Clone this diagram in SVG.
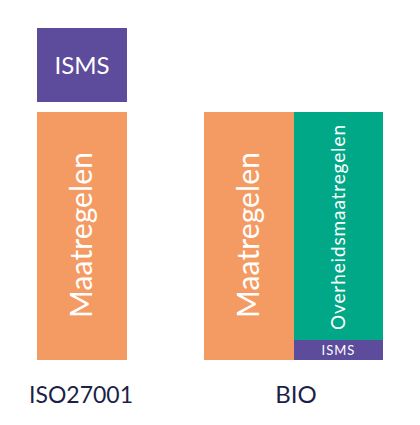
<svg xmlns="http://www.w3.org/2000/svg" width="420" height="425" viewBox="0 0 420 425">
<style>
.t{font-family:Lato,"Open Sans","Noto Sans",sans-serif;fill:#fff}
.lbl{font-family:Lato,"Open Sans","Noto Sans",sans-serif;fill:#1c1f48;font-size:24px;text-anchor:middle}
.purple{fill:#5c4c9b}.orange{fill:#f49b63}.green{fill:#00a887}
</style>
<rect width="420" height="425" fill="#fff"/>
<g id="iso-isms">
<rect class="purple" x="37" y="28" width="90" height="74"/>
<text class="t" x="82" y="74" font-size="24" text-anchor="middle">ISMS</text>
</g>
<g id="iso-maatregelen">
<rect class="orange" x="37" y="112" width="90" height="248"/>
<text class="t" transform="translate(92 235) rotate(-90)" font-size="30" text-anchor="middle" textLength="166" lengthAdjust="spacing">Maatregelen</text>
</g>
<g id="bio-maatregelen">
<rect class="orange" x="204" y="112" width="90" height="248"/>
<text class="t" transform="translate(259 235) rotate(-90)" font-size="30" text-anchor="middle" textLength="166" lengthAdjust="spacing">Maatregelen</text>
</g>
<g id="bio-overheid">
<rect class="green" x="294" y="112" width="89" height="228"/>
<text class="t" transform="translate(345 227.5) rotate(-90)" font-size="19" text-anchor="middle" textLength="205" lengthAdjust="spacing">Overheidsmaatregelen</text>
</g>
<g id="bio-isms">
<rect class="purple" x="294" y="340" width="89" height="20"/>
<text class="t" x="338.5" y="355" font-size="13" text-anchor="middle" letter-spacing="1">ISMS</text>
</g>
<text class="lbl" x="81" y="403" textLength="104" lengthAdjust="spacingAndGlyphs">ISO27001</text>
<text class="lbl" x="296" y="403">BIO</text>
</svg>
